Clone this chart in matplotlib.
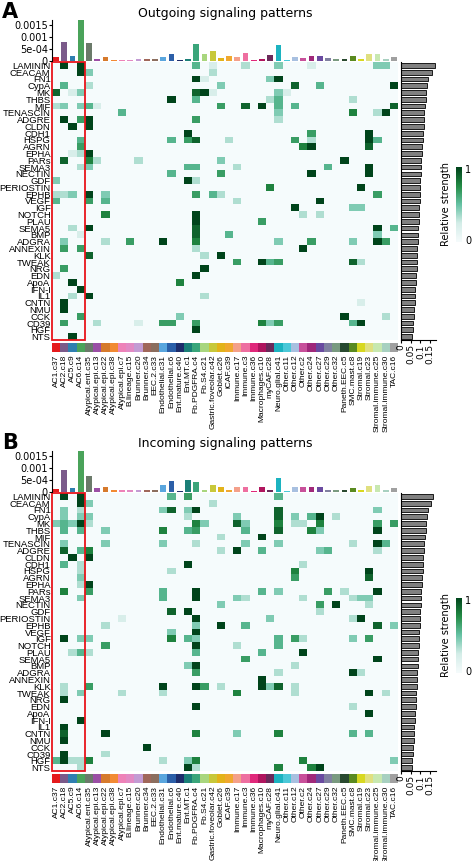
import numpy as np
import matplotlib
matplotlib.use("Agg")
import matplotlib.pyplot as plt
from matplotlib.colors import LinearSegmentedColormap
from matplotlib.patches import Rectangle

pathways = ["LAMININ","CEACAM","FN1","CypA","MK","THBS","MIF","TENASCIN","ADGRE","CLDN","CDH1",
            "HSPG","AGRN","EPHA","PARs","SEMA3","NECTIN","GDF","PERIOSTIN","EPHB","VEGF","IGF",
            "NOTCH","PLAU","SEMA5","BMP","ADGRA","ANNEXIN","KLK","TWEAK","NRG","EDN","ApoA",
            "IFN-I","IL1","CNTN","NMU","CCK","CD39","HGF","NTS"]
clusters = ["AC1.c37","AC2.c18","AC5.c9","AC6.c14","Atypical.ent.c35","Atypical.epi.c13",
            "Atypical.epi.c22","Atypical.epi.c38","Atypical.epi.c7","B.lineage.c15","Brunner.c20",
            "Brunner.c34","EEC.2.c33","Endothelial.c31","Endothelial.c6","Ent.mature.c40","Ent.MT.c1",
            "Fb.PDGFRA.c4","Fb.S4.c21","Gastric.foveolar.c42","Goblet.c26","iCAF.c39","Immune.c17",
            "Immune.c3","Immune.c36","Macrophages.c10","myCAF.c28","Neuro.glial.c41","Other.c11",
            "Other.c12","Other.c2","Other.c24","Other.c27","Other.c29","Other.c32","Paneth.EEC.c5",
            "SMC.mast.c8","Stromal.c19","Stromal.c23","Stromal.immune.c25","Stromal.immune.c30","TAC.c16"]
cluster_colors = ["#e41a1c","#7b5a8a","#2f7fb0","#4aa35a","#6b7a6a","#9b4fa5","#d67a2c","#f28a33",
                  "#ee82b8","#e28ac4","#c39bd3","#a0675a","#8c6e5e","#5aa6de","#2c5fa8","#1f2d6b",
                  "#1b7f77","#3aa57a","#a9d67e","#c8c83a","#e3b31a","#f0a830","#f4a08a","#ee6fa0",
                  "#e0287a","#b0155e","#6b2a5a","#1cb3c0","#4cc8d8","#a8c0e0","#c8509a","#a0287a",
                  "#6a4aa0","#8080a0","#7a9a80","#2a4a30","#5a8a20","#d8d820","#e0e080","#c8e8b0",
                  "#a8d0c0","#a0a0a0"]

# relative strength levels (0-9) per pathway: {cluster index: level}
out_levels = [
 {1:9,3:9,17:5,19:2,23:3,27:4,31:2,39:4,40:4},
 {3:9,4:4,19:3},
 {17:9,18:2,26:4,27:9},
 {1:5,4:3,20:4,29:8,32:5,41:9},
 {0:8,2:2,3:4,17:8,18:9,19:2,27:4,28:2},
 {14:9,17:5,26:3,27:5,36:3},
 {0:3,1:4,3:4,4:5,5:2,20:6,23:8,25:9,27:5,29:5,41:8},
 {8:5,27:4,36:7,39:3,40:9},
 {1:9,3:6,4:9,17:6,27:3},
 {2:9,4:9},
 {16:9,31:6,38:9},
 {3:5,14:5,16:6,17:8,21:3,29:6,31:3,38:9,39:5},
 {3:6,30:7,31:9,38:8},
 {2:2,3:3,4:9},
 {1:8,4:7,5:3,10:3,20:4,35:9},
 {3:3,4:4,16:5,17:5,22:3,33:5,38:9},
 {14:5,20:6,31:9,38:9},
 {0:4,16:9,17:3},
 {26:7,37:9},
 {0:3,1:3,2:4,4:9,6:4,17:6,19:5,20:3,39:6},
 {0:5,4:6,6:5,22:3,32:9},
 {29:9,36:4,37:4},
 {6:7,17:9,30:3,32:3},
 {17:9,25:6},
 {2:3,4:9,17:8,39:9,41:5},
 {3:2,17:8,21:5,39:4},
 {1:4,6:3,9:6,13:9,17:7,27:4,31:6,36:4,39:9,40:6},
 {1:6,3:6,17:3,30:9},
 {4:8,18:3,20:9},
 {22:6,25:9,26:5,27:6,36:8,37:3},
 {1:6,18:9},
 {0:3,17:9},
 {2:9,15:7},
 {3:9},
 {2:3,4:9,18:3},
 {1:9,37:2},
 {1:9},
 {3:6,15:4,35:9,40:3},
 {1:6,5:3,10:2,13:6,14:6,17:6,25:7,26:4,27:6,36:5,37:9},
 {17:9},
 {2:9},
]
in_levels = [
 {1:9,3:9,14:5,16:6,27:5},
 {3:9,4:4,19:3},
 {1:4,3:3,13:4,14:8,16:4,17:9,27:8,39:4},
 {1:4,3:4,4:4,16:3,22:4,27:8,29:4,31:5,32:9,34:3},
 {0:4,1:5,2:4,3:9,4:3,17:7,18:4,22:8,23:4,27:7,29:3,30:3,32:7,39:6,41:6},
 {1:5,3:5,6:4,13:7,16:5,17:6,23:5,27:8,31:7,32:4,39:9},
 {20:3,25:9},
 {1:4,6:4,13:4,17:3,23:4,27:4,36:3,39:9,40:5},
 {1:8,3:5,4:7,20:3,22:9,25:5,32:4,33:5,39:3},
 {2:9,4:9},
 {1:5,3:3,16:9,30:3},
 {3:3,14:3,29:7,38:9},
 {3:4,29:6,38:8},
 {3:3,4:9},
 {1:7,4:6,13:5,17:9,25:5,27:4,33:6,35:3,39:9},
 {3:4,13:5,17:9,22:4,23:3,30:3,36:3,37:4,38:4},
 {20:4,32:6,34:9,38:3},
 {14:8,16:9,32:3},
 {8:2,17:9,26:4,36:3,37:9},
 {6:3,17:4,20:9,23:5,39:8,41:4},
 {14:4,17:9},
 {1:9,3:4,4:4,14:7,16:5,17:4,27:5,29:6,30:3,36:4,38:6},
 {6:6,17:9,22:3,27:5},
 {2:3,3:5,4:3,17:5,25:5,30:9},
 {23:6,39:9},
 {16:4,17:9,29:3},
 {17:6,27:3,36:9,37:3},
 {25:9},
 {1:3,4:6,13:9,17:9,18:6,20:3,25:9,26:4,27:8,29:3},
 {1:3,3:4,8:3,13:3,22:7,29:3,38:9,40:3},
 {1:9},
 {17:9,36:3},
 {38:9},
 {3:9},
 {1:9},
 {1:8,6:9,17:7,22:4,27:7,36:5,38:5},
 {1:9},
 {11:9},
 {1:9,6:3},
 {0:5,1:9,2:3,3:3,4:7,13:3,16:4,17:7,30:7,41:4},
 {3:3,16:9,17:3,27:7,31:7,32:9},
]
out_col_totals = [0.00018,0.00078,0.0002,0.00168,0.00075,0.0001,0.00018,0.00005,0.00005,0.00005,
                  0.00007,0.00007,0.0001,0.00018,0.00027,0.00005,0.0001,0.00072,0.0003,0.0004,
                  0.00013,0.0002,0.00017,0.00033,0.00005,0.0001,0.00025,0.00068,0.00005,0.00018,
                  0.00013,0.0002,0.0002,0.00012,0.0001,0.0001,0.0002,0.0001,0.0003,0.0003,0.0001,0.00015]
in_col_totals = [0.00012,0.0009,0.00017,0.0017,0.00067,0.00015,0.00022,0.0001,0.00007,0.00007,
                 0.00008,0.00008,0.0001,0.0003,0.00047,0.00005,0.0005,0.0004,0.0001,0.0003,
                 0.0002,0.0001,0.0002,0.0002,0.00005,0.0002,0.0001,0.0006,0.00003,0.0002,
                 0.0002,0.0002,0.0002,0.0001,0.0001,0.0001,0.00017,0.0001,0.00025,0.0003,0.0001,0.00015]
out_row_totals = [0.173,0.159,0.138,0.132,0.131,0.129,0.122,0.120,0.118,0.116,0.113,0.111,0.110,
                  0.108,0.105,0.104,0.102,0.100,0.098,0.097,0.096,0.094,0.093,0.091,0.089,0.088,
                  0.086,0.084,0.083,0.081,0.080,0.078,0.076,0.074,0.072,0.070,0.068,0.066,0.063,0.060,0.055]
in_row_totals = [0.165,0.155,0.140,0.133,0.130,0.127,0.123,0.120,0.117,0.115,0.113,0.111,0.109,
                 0.107,0.105,0.103,0.101,0.099,0.098,0.096,0.094,0.093,0.091,0.089,0.088,0.086,
                 0.084,0.082,0.080,0.078,0.077,0.075,0.073,0.071,0.069,0.067,0.065,0.063,0.061,0.058,0.054]

cmap = LinearSegmentedColormap.from_list("rs", ["#f5fbfc","#d4ede8","#66c2a4","#238b45","#00441b"])

W, H = 474, 861
fig = plt.figure(figsize=(W/100, H/100), dpi=100)

def ax_px(x0, y0, x1, y1):
    return fig.add_axes([x0/W, 1-y1/H, (x1-x0)/W, (y1-y0)/H])

def panel(off, levels, coltot, rowtot, title, letter):
    nr, nc = len(pathways), len(clusters)
    M = np.zeros((nr, nc))
    for r, d in enumerate(levels):
        for c, v in d.items():
            M[r, c] = v/9
    hx0, hx1, hy0, hy1 = 52, 398, 62+off, 340+off
    fig.text(2/W, 1-(12+off)/H, letter, fontsize=15, fontweight="bold", va="center")
    fig.text(225/W, 1-(13+off)/H, title, fontsize=9, ha="center", va="center")
    ax = ax_px(hx0, hy0, hx1, hy1)
    ax.imshow(M, cmap=cmap, vmin=0, vmax=1, aspect="auto", interpolation="nearest")
    ax.set_xticks([]); ax.set_yticks(range(nr))
    ax.set_yticklabels(pathways, fontsize=6.8, family="Liberation Sans")
    ax.tick_params(axis="y", length=0, pad=1)
    for s in ax.spines.values(): s.set_visible(False)
    ax.add_patch(Rectangle((-0.5, -0.5), 4, nr, fill=False, ec="#e8141b", lw=1.3, clip_on=False))
    axt = ax_px(hx0, 20+off, hx1, 61+off)
    axt.bar(range(nc), coltot, color=cluster_colors, width=0.7)
    axt.set_xlim(-0.5, nc-0.5); axt.set_ylim(0, 0.0017)
    axt.set_yticks([0, 0.0005, 0.001, 0.0015]); axt.set_yticklabels(["0","5e-04","0.001","0.0015"], fontsize=7)
    axt.set_xticks([])
    for s in ["top","right","bottom"]: axt.spines[s].set_visible(False)
    axt.tick_params(axis="y", length=2, pad=1)
    axs = ax_px(hx0, 343+off, hx1, 352+off)
    axs.imshow(np.arange(nc)[None, :], cmap=matplotlib.colors.ListedColormap(cluster_colors),
               aspect="auto", interpolation="nearest")
    axs.set_yticks([]); axs.set_xticks(range(nc))
    axs.set_xticklabels(clusters, rotation=90, fontsize=6.0, family="Liberation Sans")
    axs.tick_params(axis="x", length=0, pad=2)
    for s in axs.spines.values(): s.set_visible(False)
    axr = ax_px(401, hy0, 436, hy1)
    axr.barh(range(nr), rowtot, color="#808080", edgecolor="black", lw=0.6, height=0.7)
    axr.set_ylim(nr-0.5, -0.5); axr.set_xlim(0, 0.18)
    axr.set_yticks([]); axr.set_xticks([0, 0.05, 0.1, 0.15])
    axr.set_xticklabels(["0","0.05","0.1","0.15"], rotation=90, fontsize=6.5)
    axr.tick_params(axis="x", length=2, pad=1)
    for s in ["top","right"]: axr.spines[s].set_visible(False)
    axc = ax_px(456, 167+off, 462, 242+off)
    axc.imshow(np.linspace(1, 0, 100)[:, None], cmap=cmap, aspect="auto")
    axc.set_xticks([]); axc.set_yticks([])
    for s in axc.spines.values(): s.set_visible(False)
    fig.text(465/W, 1-(170+off)/H, "1", fontsize=7, va="center")
    fig.text(465/W, 1-(241+off)/H, "0", fontsize=7, va="center")
    fig.text(446/W, 1-(204+off)/H, "Relative strength", fontsize=7, rotation=90, ha="center", va="center")

panel(0, out_levels, out_col_totals, out_row_totals, "Outgoing signaling patterns", "A")
panel(431, in_levels, in_col_totals, in_row_totals, "Incoming signaling patterns", "B")
fig.savefig("out.png", dpi=100)
